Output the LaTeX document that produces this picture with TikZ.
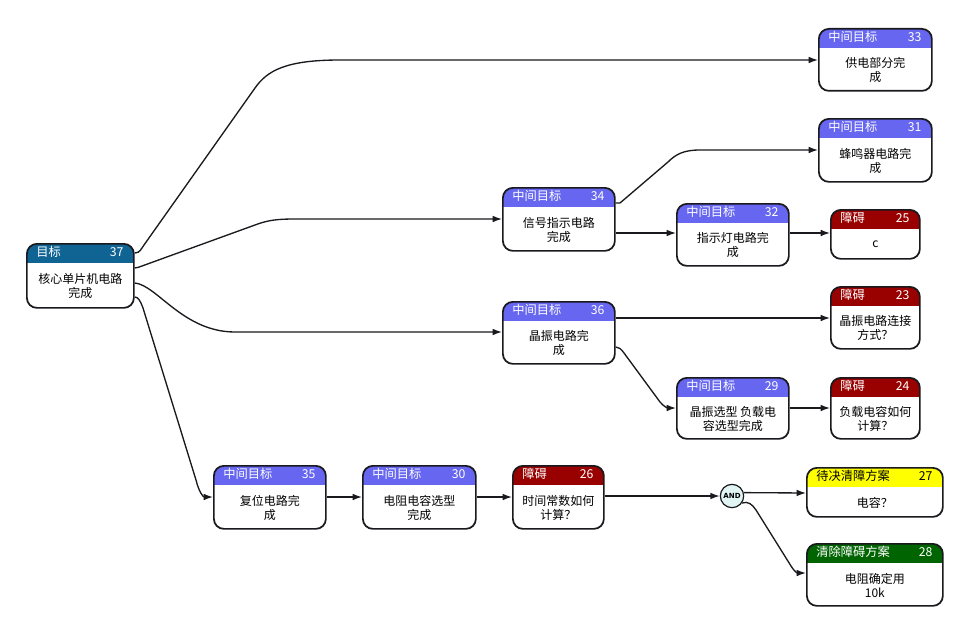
\documentclass[tikz,border=0pt]{standalone}
\usepackage{fontspec}
\setmainfont{Noto Sans CJK SC}
\newfontfamily\andfont{DejaVu Sans}
\usetikzlibrary{calc,arrows.meta}
\definecolor{goalc}{RGB}{16,100,148}
\definecolor{midc}{RGB}{102,102,240}
\definecolor{obsc}{RGB}{153,0,0}
\definecolor{yelc}{RGB}{255,255,0}
\definecolor{grnc}{RGB}{0,100,0}
\definecolor{andc}{RGB}{225,245,245}
\definecolor{linec}{RGB}{25,25,30}
\newcommand\gnode[9]{%
  \node[gbox=#5, minimum width=#3*0.75pt, minimum height=#4*0.75pt] (#1) at (#2) {};
  \node[htext, text=#6, anchor=west] (#1-l) at ($(#1.north west)+(10,10)$) {#7};
  \node[htext, text=#6, anchor=east] (#1-n) at ($(#1.north east)+(-11,10)$) {#8};
  \node[btext] (#1-b) at ($(#1.south)+(0,{-(#4-19)/2})$) {#9};
}
\begin{document}
\begin{tikzpicture}[x=0.75pt,y=-0.75pt,
  gbox/.style={draw=linec, line width=1.3pt, rounded corners=7.5pt, fill=white,
    anchor=north west, inner sep=0pt,
    path picture={\fill[#1, sharp corners] (path picture bounding box.north west) rectangle ($(path picture bounding box.north east)+(0,19)$);}},
  htext/.style={font=\fontsize{9.2}{10.5}\selectfont, inner sep=0pt, text height=7pt, text depth=1.5pt},
  btext/.style={font=\fontsize{9}{10.5}\selectfont, align=center, inner sep=0pt},
  edge/.style={draw=linec, line width=1pt, -{Latex[length=7pt,width=5pt]}}
]
\useasboundingbox[fill=white] (0,0) rectangle (971,635);

\gnode{n37}{26,243}{107}{64}{goalc}{white}{目标}{37}{核心单片机电路\\完成}
\gnode{n33}{818,28}{113}{62}{midc}{white}{中间目标}{33}{供电部分完\\成}
\gnode{n31}{818,118}{113}{63}{midc}{white}{中间目标}{31}{蜂鸣器电路完\\成}
\gnode{n34}{502,187}{112}{63}{midc}{white}{中间目标}{34}{信号指示电路\\完成}
\gnode{n32}{676,203}{112}{62}{midc}{white}{中间目标}{32}{指示灯电路完\\成}
\gnode{n25}{830,209}{89}{49}{obsc}{white}{障碍}{25}{c}
\gnode{n23}{830,286}{89}{62}{obsc}{white}{障碍}{23}{晶振电路连接\\方式？}
\gnode{n36}{502,301}{112}{62}{midc}{white}{中间目标}{36}{晶振电路完\\成}
\gnode{n29}{676,377}{112}{61}{midc}{white}{中间目标}{29}{晶振选型 负载电\\容选型完成}
\gnode{n24}{830,377}{89}{61}{obsc}{white}{障碍}{24}{负载电容如何\\计算？}
\gnode{n35}{213,465}{112}{63}{midc}{white}{中间目标}{35}{复位电路完\\成}
\gnode{n30}{362,465}{113}{63}{midc}{white}{中间目标}{30}{电阻电容选型\\完成}
\gnode{n26}{512,465}{91}{63}{obsc}{white}{障碍}{26}{时间常数如何\\计算？}
\gnode{n27}{806,467}{136}{49}{yelc}{black}{待决清障方案}{27}{电容？}
\gnode{n28}{806,543}{136}{62}{grnc}{white}{清除障碍方案}{28}{电阻确定用\\10k}

\node[circle, draw=linec, line width=0.9pt, fill=andc, minimum size=17.5pt, inner sep=0pt,
  font=\andfont\bfseries\fontsize{5.3}{5.3}\selectfont] (and) at (732,496) {AND};

% edges
\draw[edge] ($(n37.north east)+(0,10)$) .. controls (140,253) and (141,249) .. (144,245)
  -- (255,88) .. controls (267,71) and (285,60) .. (340,60) -- ($(n33.north west)+(0,32)$);
\draw[edge] ($(n37.north east)+(0,25)$) .. controls (137,268) and (139,267) .. (142,266)
  -- (255,225) .. controls (268,220) and (278,219) .. (295,219) -- ($(n34.north west)+(0,32)$);
\draw[edge] ($(n37.north east)+(0,40)$) .. controls (157,285) and (183,332) .. (235,332)
  -- ($(n36.north west)+(0,31)$);
\draw[edge] ($(n37.north east)+(0,54)$) .. controls (138,297) and (140,300) .. (143,308)
  -- (196,480) .. controls (199,492) and (203,497) .. ($(n35.north west)+(0,32)$);
\draw[edge] ($(n34.north east)+(0,16)$) -- (620,203) -- (668,162)
  .. controls (676,154) and (684,150) .. (700,150) -- ($(n31.north west)+(0,32)$);
\draw[edge] ($(n34.north east)+(0,46)$) -- ($(n32.north west)+(0,30)$);
\draw[edge] ($(n32.north east)+(0,30)$) -- ($(n25.north west)+(0,24)$);
\draw[edge] ($(n36.north east)+(0,17)$) -- ($(n23.north west)+(0,32)$);
\draw[edge] ($(n36.north east)+(0,46)$) .. controls (619,347) and (621,349) .. (624,353)
  -- (660,402) .. controls (664,407) and (668,408) .. ($(n29.north west)+(0,31)$);
\draw[edge] ($(n29.north east)+(0,31)$) -- ($(n24.north west)+(0,31)$);
\draw[edge] ($(n35.north east)+(0,32)$) -- ($(n30.north west)+(0,32)$);
\draw[edge] ($(n30.north east)+(0,32)$) -- ($(n26.north west)+(0,32)$);
\draw[edge] ($(n26.north east)+(0,31)$) -- (and.west);
\draw[edge] (and.16) -- ($(n27.north west)+(0,26)$);
\draw[edge] (and.-35) .. controls (748,501) and (752,504) .. (756,510)
  -- (791,566) .. controls (794,571) and (797,573) .. ($(n28.north west)+(0,30)$);
\end{tikzpicture}
\end{document}
